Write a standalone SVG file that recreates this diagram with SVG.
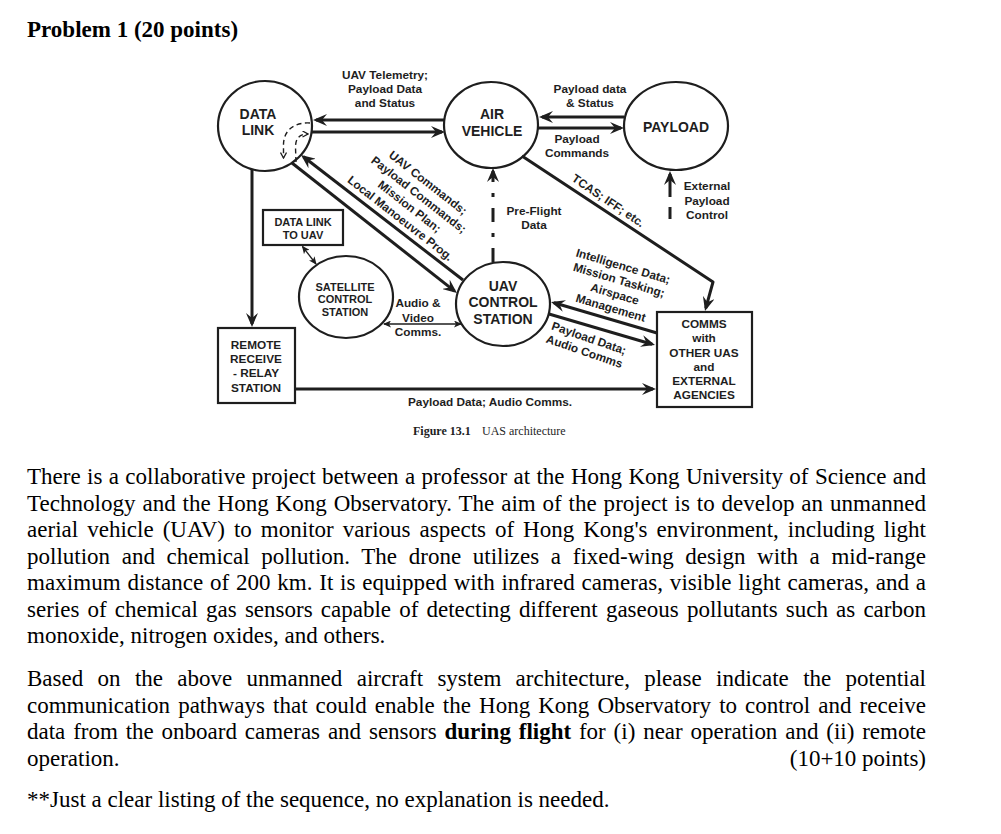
<svg xmlns="http://www.w3.org/2000/svg" width="1001" height="834" viewBox="0 0 1001 834">
<style>
.node{fill:none;stroke:#1e1e1e;stroke-width:2.2}
.nt{font-family:"Liberation Sans",Arial,sans-serif;font-weight:bold;fill:#1e1e1e;text-anchor:middle}
.n14{font-size:14px}
.n12{font-size:11.8px}
.n11{font-size:11px}
.lbl{font-family:"Liberation Sans",Arial,sans-serif;font-weight:bold;font-size:11.8px;fill:#1e1e1e;text-anchor:middle}
.thick{fill:none;stroke:#1e1e1e;stroke-width:3}
.thin{fill:none;stroke:#1e1e1e;stroke-width:1.3}
.dash{fill:none;stroke:#1e1e1e;stroke-width:1.4;stroke-dasharray:5 3.5}
.body{font-family:"Liberation Serif","Times New Roman",serif;font-size:23px;fill:#000}
.cap{font-family:"Liberation Serif","Times New Roman",serif;font-size:12px;fill:#1e1e1e}
</style>
<defs>
<marker id="ah" markerUnits="userSpaceOnUse" viewBox="0 0 14 12" markerWidth="14" markerHeight="12" refX="11" refY="6" orient="auto"><path d="M0,0 L14,6 L0,12 L5,6 Z" fill="#1e1e1e"/></marker>
<marker id="sa" markerUnits="userSpaceOnUse" viewBox="0 0 8 7" markerWidth="8" markerHeight="7" refX="7" refY="3.5" orient="auto-start-reverse"><path d="M0,0 L8,3.5 L0,7 L2,3.5 Z" fill="#1e1e1e"/></marker>
<marker id="oa" markerUnits="userSpaceOnUse" viewBox="0 0 7 7" markerWidth="7" markerHeight="7" refX="6" refY="3.5" orient="auto"><path d="M0.5,0.5 L6,3.5 L0.5,6.5" fill="none" stroke="#1e1e1e" stroke-width="1.3"/></marker>
</defs>
<rect width="1001" height="834" fill="#fff"/>

<text x="27" y="37" font-family="'Liberation Serif','Times New Roman',serif" font-weight="bold" font-size="23" fill="#000">Problem 1 (20 points)</text>

<g id="connectors">
  <path class="thick" d="M445,120 L316,120" marker-end="url(#ah)"/>
  <path class="thick" d="M312,132 L442,132" marker-end="url(#ah)"/>
  <path class="thick" d="M624,117 L542,117" marker-end="url(#ah)"/>
  <path class="thick" d="M538,128 L621,128" marker-end="url(#ah)"/>
  <path class="thick" d="M252,169 L252,324" marker-end="url(#ah)"/>
  <path class="thick" d="M292,163 L454.6,291.1" marker-end="url(#ah)"/>
  <path class="thick" d="M463,280 L303.4,156.8" marker-end="url(#ah)"/>
  <path class="thick" d="M493,262 L493,171" stroke-dasharray="14 11 4 11" marker-end="url(#ah)"/>
  <path class="thick" d="M670,219 L670,174" stroke-dasharray="12 10 40" marker-end="url(#ah)"/>
  <path class="thick" stroke-linejoin="round" d="M522,156 L713,282 L705.8,308.1" marker-end="url(#ah)"/>
  <path class="thick" d="M657,333 L553.9,302.8" marker-end="url(#ah)"/>
  <path class="thick" d="M549,314 L652.1,344.2" marker-end="url(#ah)"/>
  <path class="thick" d="M295,389 L653,389" marker-end="url(#ah)"/>
  <path class="thin" d="M302.5,246.5 L316,264" marker-start="url(#sa)" marker-end="url(#sa)"/>
  <path class="thin" d="M384,324 L461,324" marker-start="url(#sa)" marker-end="url(#sa)"/>
  <path class="dash" d="M310,123 C296,122 284,129 283.5,144 L283.5,158" marker-end="url(#oa)"/>
  <path class="dash" d="M296,162 L295.5,147 C295.5,139 299,134 308,134" marker-end="url(#oa)"/>

  <text class="lbl"><tspan x="385" y="79">UAV Telemetry;</tspan><tspan x="385" y="93">Payload Data</tspan><tspan x="385" y="107">and Status</tspan></text>
  <text class="lbl"><tspan x="590" y="93">Payload data</tspan><tspan x="590" y="107">&amp; Status</tspan></text>
  <text class="lbl"><tspan x="577" y="143">Payload</tspan><tspan x="577" y="157">Commands</tspan></text>
  <text class="lbl"><tspan x="534" y="215">Pre-Flight</tspan><tspan x="534" y="229">Data</tspan></text>
  <text class="lbl"><tspan x="707" y="190">External</tspan><tspan x="707" y="205">Payload</tspan><tspan x="707" y="219">Control</tspan></text>
  <text class="lbl" transform="translate(606,204) rotate(34)">TCAS; IFF; etc.</text>
  <text class="lbl" transform="translate(425.5,186) rotate(38)"><tspan x="0" y="0">UAV Commands;</tspan><tspan x="0" y="15">Payload Commands;</tspan><tspan x="0" y="30">Mission Plan;</tspan><tspan x="0" y="45">Local Manoeuvre Prog.</tspan></text>
  <text class="lbl" transform="translate(622,270) rotate(16.5)"><tspan x="0" y="0">Intelligence Data;</tspan><tspan x="0" y="14.5">Mission Tasking;</tspan><tspan x="0" y="29">Airspace</tspan><tspan x="0" y="43.5">Management</tspan></text>
  <text class="lbl" transform="translate(587.7,342) rotate(19)"><tspan x="0" y="0">Payload Data;</tspan><tspan x="0" y="14">Audio Comms</tspan></text>
  <text class="lbl"><tspan x="418" y="307">Audio &amp;</tspan><tspan x="418" y="321.5">Video</tspan><tspan x="418" y="336">Comms.</tspan></text>
  <text class="lbl" x="490" y="406">Payload Data; Audio Comms.</text>
</g>

<g id="data-link">
  <ellipse class="node" cx="265" cy="126" rx="47" ry="45"/>
  <text class="nt n14"><tspan x="258" y="119">DATA</tspan><tspan x="258" y="135">LINK</tspan></text>
</g>
<g id="air-vehicle">
  <ellipse class="node" cx="491" cy="125" rx="47" ry="43"/>
  <text class="nt n14"><tspan x="492" y="119">AIR</tspan><tspan x="492" y="136">VEHICLE</tspan></text>
</g>
<g id="payload">
  <ellipse class="node" cx="676" cy="126" rx="52" ry="44"/>
  <text class="nt n14" x="676" y="132">PAYLOAD</text>
</g>
<g id="data-link-to-uav">
  <rect class="node" x="263" y="210" width="80" height="35"/>
  <text class="nt n11"><tspan x="303" y="225.5">DATA LINK</tspan><tspan x="303" y="238.5">TO UAV</tspan></text>
</g>
<g id="satellite-control-station">
  <ellipse class="node" cx="346" cy="297" rx="47" ry="41"/>
  <text class="nt n11"><tspan x="345" y="290.5">SATELLITE</tspan><tspan x="345" y="303.3">CONTROL</tspan><tspan x="345" y="316">STATION</tspan></text>
</g>
<g id="uav-control-station">
  <ellipse class="node" cx="503" cy="304" rx="47" ry="42"/>
  <text class="nt n14"><tspan x="503" y="290.5">UAV</tspan><tspan x="503" y="307.3">CONTROL</tspan><tspan x="503" y="324">STATION</tspan></text>
</g>
<g id="remote-receive-relay-station">
  <rect class="node" x="218" y="328" width="77" height="75"/>
  <text class="nt n12"><tspan x="256" y="349">REMOTE</tspan><tspan x="256" y="363">RECEIVE</tspan><tspan x="256" y="377">- RELAY</tspan><tspan x="256" y="391.5">STATION</tspan></text>
</g>
<g id="comms-external">
  <rect class="node" x="657" y="312" width="95" height="95" stroke-width="3"/>
  <text class="nt n12"><tspan x="704" y="328">COMMS</tspan><tspan x="704" y="342">with</tspan><tspan x="704" y="356.5">OTHER UAS</tspan><tspan x="704" y="370.5">and</tspan><tspan x="704" y="385">EXTERNAL</tspan><tspan x="704" y="399">AGENCIES</tspan></text>
</g>

<text class="cap" y="435"><tspan x="413" font-weight="bold">Figure 13.1</tspan><tspan x="482">UAS architecture</tspan></text>

<g id="body-text">
  <text class="body" x="27" y="484" word-spacing="0.6" textLength="899" lengthAdjust="spacing">There is a collaborative project between a professor at the Hong Kong University of Science and</text>
  <text class="body" x="27" y="511" word-spacing="1" textLength="899" lengthAdjust="spacing">Technology and the Hong Kong Observatory. The aim of the project is to develop an unmanned</text>
  <text class="body" x="27" y="537" word-spacing="3.1" textLength="899" lengthAdjust="spacing">aerial vehicle (UAV) to monitor various aspects of Hong Kong's environment, including light</text>
  <text class="body" x="27" y="564" word-spacing="5.9" textLength="899" lengthAdjust="spacing">pollution and chemical pollution. The drone utilizes a fixed-wing design with a mid-range</text>
  <text class="body" x="27" y="590" word-spacing="0.8" textLength="899" lengthAdjust="spacing">maximum distance of 200 km. It is equipped with infrared cameras, visible light cameras, and a</text>
  <text class="body" x="27" y="617" word-spacing="2.4" textLength="899" lengthAdjust="spacing">series of chemical gas sensors capable of detecting different gaseous pollutants such as carbon</text>
  <text class="body" x="27" y="643">monoxide, nitrogen oxides, and others.</text>
  <text class="body" x="27" y="686" word-spacing="8.6" textLength="899" lengthAdjust="spacing">Based on the above unmanned aircraft system architecture, please indicate the potential</text>
  <text class="body" x="27" y="713" word-spacing="2.3" textLength="899" lengthAdjust="spacing">communication pathways that could enable the Hong Kong Observatory to control and receive</text>
  <text class="body" x="27" y="739" word-spacing="2.1" textLength="899" lengthAdjust="spacing">data from the onboard cameras and sensors <tspan font-weight="bold">during flight</tspan> for (i) near operation and (ii) remote</text>
  <text class="body" x="27" y="766">operation.</text>
  <text class="body" x="926" y="766" text-anchor="end">(10+10 points)</text>
  <text class="body" x="27" y="807">**Just a clear listing of the sequence, no explanation is needed.</text>
</g>
</svg>
